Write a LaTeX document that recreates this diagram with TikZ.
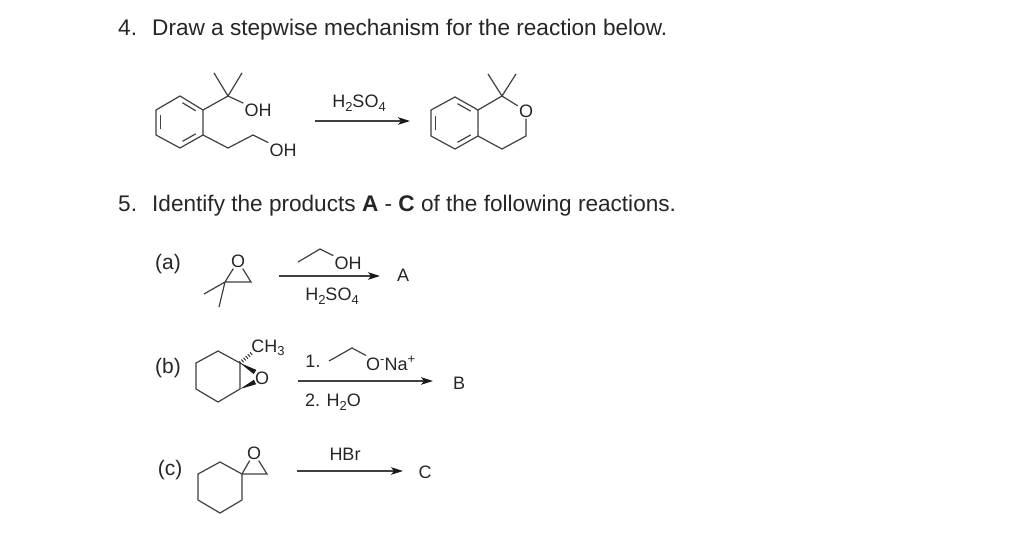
\documentclass[tikz,border=0pt]{standalone}
\usepackage{fontspec}
\setmainfont{Liberation Sans}
\usetikzlibrary{arrows.meta,calc}
\tikzset{
bond/.style={line width=1.2pt,color=black!75},
rxnarrow/.style={line width=1.2pt,color=black!75,-{Stealth[length=12pt,width=7.5pt,inset=3pt,color=black!90]}},
heading/.style={anchor=base west,inner sep=0pt,font=\fontsize{22.6}{27}\selectfont,color=black!85},
partlabel/.style={inner sep=0pt,font=\fontsize{21}{25}\selectfont,color=black!85},
chem/.style={inner sep=1pt,font=\fontsize{18}{21}\selectfont,color=black!85},
hashbond/.style={line width=3.5pt,dash pattern=on 1pt off 1.8pt,color=black!80},
wedgebond/.style={fill=black!90}
}
\newcommand{\innerbond}[3]{\draw[bond,shorten <=3pt,shorten >=3pt] ($(#1)!.8!(#2)$) -- ($(#1)!.8!(#3)$);}
\newcommand{\sbs}[1]{\raisebox{-3.5pt}{\fontsize{13}{15}\selectfont #1}}
\newcommand{\sps}[1]{\raisebox{7pt}{\fontsize{13}{15}\selectfont #1}}
\begin{document}
\begin{tikzpicture}[x=1pt,y=-1pt]
\useasboundingbox[fill=white] (0,0) rectangle (1021,557);
\node[heading] (qa) at (118,35) {4.};
\node[heading] (qb) at (152,35) {Draw a stepwise mechanism for the reaction below.};
\node[heading] (qc) at (118,211) {5.};
\node[heading] (qd) at (152,211) {Identify the products \textbf{A} - \textbf{C} of the following reactions.};
\foreach \n/\x/\y in {1/180/96,2/203/110,3/203/135,4/180/148,5/156/135,6/156/110}
\coordinate (r\n) at (\x,\y);
\coordinate (rc) at (179.5,122);
\coordinate (rq) at (228,96);
\coordinate (rm1) at (214,73);
\coordinate (rm2) at (242,73);
\coordinate (rh1) at (228,148);
\coordinate (rh2) at (253,135);
\node[chem] (roh1) at (258,110) {OH};
\node[chem] (roh2) at (283,150) {OH};
\draw[bond,line join=round] (r1) -- (r2) -- (r3) -- (r4) -- (r5) -- (r6) -- cycle;
\innerbond{rc}{r1}{r2}
\innerbond{rc}{r3}{r4}
\innerbond{rc}{r5}{r6}
\draw[bond] (r2) -- (rq) (rm1) -- (rq) -- (rm2) (rq) -- (roh1);
\draw[bond] (r3) -- (rh1) -- (rh2) -- (roh2);
\coordinate (sa) at (315,121);
\coordinate (sb) at (410,121);
\draw[rxnarrow] (sa) -- (sb);
\node[chem] (sla) at (359,103) {H\sbs{2}SO\sbs{4}};
\foreach \n/\x/\y in {1/455/97,2/478/110,3/478/136,4/455/149,5/431/136,6/431/110}
\coordinate (p\n) at (\x,\y);
\coordinate (pc) at (454.5,123);
\coordinate (pq) at (502,96);
\coordinate (pm1) at (488,74);
\coordinate (pm2) at (516,74);
\coordinate (ph1) at (526,136);
\coordinate (ph2) at (502,149);
\node[chem] (po) at (526,111) {O};
\draw[bond,line join=round] (p1) -- (p2) -- (p3) -- (p4) -- (p5) -- (p6) -- cycle;
\innerbond{pc}{p1}{p2}
\innerbond{pc}{p3}{p4}
\innerbond{pc}{p5}{p6}
\draw[bond] (p2) -- (pq) (pm1) -- (pq) -- (pm2) (pq) -- (po) -- (ph1) -- (ph2) -- (p3);
\node[partlabel] (la) at (168,264) {(a)};
\coordinate (ea) at (225,282);
\coordinate (eb) at (251,282);
\coordinate (em1) at (204,294);
\coordinate (em2) at (219,307);
\node[chem] (eo) at (238,261) {O};
\draw[bond] (eo) -- (ea) -- (eb) -- (eo) (em1) -- (ea) -- (em2);
\coordinate (aa) at (279,276);
\coordinate (ab) at (380,276);
\draw[rxnarrow] (aa) -- (ab);
\coordinate (ae1) at (298,262);
\coordinate (ae2) at (320,249);
\node[chem] (aoh) at (348,263) {OH};
\draw[bond] (ae1) -- (ae2) -- (aoh);
\node[chem] (ala) at (332,296) {H\sbs{2}SO\sbs{4}};
\node[chem] (aprod) at (403,275) {A};
\node[partlabel] (lb) at (168,368) {(b)};
\foreach \n/\x/\y in {1/218/351,2/240/363,3/240/389,4/218/402,5/196/389,6/196/363}
\coordinate (b\n) at (\x,\y);
\coordinate (bh) at (252,353);
\coordinate (bw1) at (253.7,374.1);
\coordinate (bw2) at (256.3,369.9);
\coordinate (bw3) at (256,384.3);
\coordinate (bw4) at (254,379.7);
\node[chem] (bch) at (268,348) {CH\sbs{3}};
\node[chem] (bo) at (262,378) {O};
\draw[bond,line join=round] (b1) -- (b2) -- (b3) -- (b4) -- (b5) -- (b6) -- cycle;
\draw[hashbond] (b2) -- (bh);
\fill[wedgebond] (b2) -- (bw1) -- (bw2) -- cycle;
\fill[wedgebond] (b3) -- (bw3) -- (bw4) -- cycle;
\coordinate (ba) at (298,381);
\coordinate (bb) at (433,381);
\draw[rxnarrow] (ba) -- (bb);
\node[chem] (bla) at (313,361) {1.};
\coordinate (be1) at (329,361);
\coordinate (be2) at (352,348);
\node[chem,anchor=west,inner sep=0pt] (bona) at (366,363) {O\sps{-}Na\sps{+}};
\draw[bond] (be1) -- (be2) -- (bona.north west);
\node[chem] (blb) at (333,402) {2. H\sbs{2}O};
\node[chem] (bprod) at (459,383) {B};
\node[partlabel] (lc) at (170,470) {(c)};
\foreach \n/\x/\y in {1/220/462,2/242/474,3/242/500,4/220/513,5/198/500,6/198/474}
\coordinate (c\n) at (\x,\y);
\coordinate (ce) at (267,474);
\node[chem] (co) at (254,453) {O};
\draw[bond,line join=round] (c1) -- (c2) -- (c3) -- (c4) -- (c5) -- (c6) -- cycle;
\draw[bond] (c2) -- (ce) -- (co) -- (c2);
\coordinate (ca) at (297,471);
\coordinate (cb) at (403,471);
\draw[rxnarrow] (ca) -- (cb);
\node[chem] (cla) at (345,454) {HBr};
\node[chem] (cprod) at (425,472) {C};
\end{tikzpicture}
\end{document}
